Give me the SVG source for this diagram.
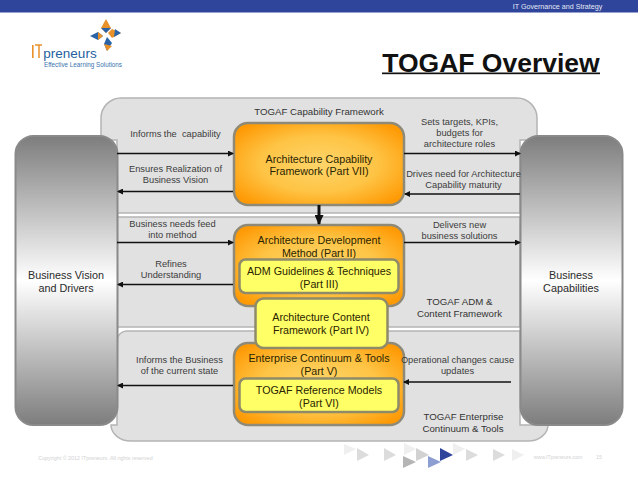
<svg xmlns="http://www.w3.org/2000/svg" width="638" height="478" viewBox="0 0 638 478">
<style>
text{font-family:"Liberation Sans",Arial,sans-serif;text-anchor:middle}
.l{font-size:9.3px;fill:#3c3c3c}
.h{font-size:9.7px;fill:#333}
.n{font-size:10.7px;fill:#2a2400}
.p{font-size:10.8px;fill:#2a2a2a}
.band{fill:#e1e1e1;stroke:#b4b4b4;stroke-width:1.5}
.orange{fill:url(#og);stroke:#8f8a78;stroke-width:2.5}
.yellow{fill:#ffff66;stroke:#8f8a68;stroke-width:2.5}
.pillar{fill:url(#pg);stroke:#8a8a8a;stroke-width:2}
.c{stroke:#111;stroke-width:1.5;fill:none;marker-end:url(#a)}
.t{fill:#dcdcdc}
</style>
<defs>
<linearGradient id="pg" x1="0" y1="0" x2="0" y2="1"><stop offset="0" stop-color="#7d7d7d"/><stop offset=".5" stop-color="#fff"/><stop offset="1" stop-color="#7d7d7d"/></linearGradient>
<radialGradient id="og" cx=".5" cy=".5" r=".62"><stop offset="0" stop-color="#fed56a"/><stop offset=".55" stop-color="#fec445"/><stop offset="1" stop-color="#ff9a05"/></radialGradient>
<marker id="a" markerWidth="6" markerHeight="6" refX="5" refY="3" orient="auto" markerUnits="userSpaceOnUse"><path d="M0 0L6 3L0 6Z" fill="#111"/></marker>
<marker id="b" markerWidth="10" markerHeight="9" refX="9" refY="4.500" orient="auto" markerUnits="userSpaceOnUse"><path d="M0 0L10 4.500L0 9Z" fill="#111"/></marker>
</defs>
<rect width="638" height="478" fill="#fff"/>
<rect id="header" width="638" height="12.500" fill="#2e459b"/>
<text x="557.500" y="9" font-size="7.150" style="fill:#e4e8f4">IT Governance and Strategy</text>
<g id="logo">
<path d="M106 19L111 28L106 33L101 28Z" fill="#e8912a"/><path d="M101 28H111L106 33Z" fill="#2a64a6"/>
<path d="M121 33L112 38L108 33L112 29Z" fill="#e8912a"/><path d="M115 29L121 33L114 37Z" fill="#2a64a6"/>
<path d="M90 36L98 32L103 36L98 40Z" fill="#2a64a6"/><path d="M98 32L103 36L98 40Z" fill="#e8912a"/>
<path d="M107 37L112 43L107 51L104 44Z" fill="#2a64a6"/><path d="M104 44L112 46L107 51Z" fill="#e8912a"/>
<rect x="32" y="45" width="1.600" height="13" fill="#e8912a"/>
<path d="M35 45H42M39 45V58" stroke="#e8912a" stroke-width="1.500" fill="none"/>
<text x="70" y="57.500" font-size="13.500" style="fill:#1f5f9e">preneurs</text>
<text x="83" y="66.500" font-size="6.300" style="fill:#3a73ad">Effective Learning Solutions</text>
</g>
<text id="title" x="491" y="71.500" font-size="26.500" font-weight="bold" fill="#111">TOGAF Overview</text>
<rect x="382" y="72.500" width="218" height="1.700" fill="#111"/>

<g id="framework-bands">
<path class="band" d="M101 140V118A20 20 0 0 1 121 98H517A20 20 0 0 1 537 118V140H520V213H117V140Z"/>
<rect class="band" x="117" y="217" width="403" height="110"/>
<path class="band" d="M117 340A10 10 0 0 1 127 331H520V425H548A20 16 0 0 1 528 441H131A20 16 0 0 1 111 425H117Z"/>
</g>

<g id="business-vision"><rect class="pillar" x="15.500" y="136" width="102" height="289" rx="18"/><text class="p" x="66" y="279">Business Vision</text><text class="p" x="66" y="291.500">and Drivers</text></g>
<g id="business-capabilities"><rect class="pillar" x="520.500" y="136" width="102" height="289" rx="18"/><text class="p" x="571" y="279">Business</text><text class="p" x="571" y="291.500">Capabilities</text></g>

<g id="capability-framework"><rect class="orange" x="234" y="123" width="170" height="82" rx="14"/><text class="n" x="319" y="162.500">Architecture Capability</text><text class="n" x="319" y="175">Framework (Part VII)</text></g>
<g id="adm"><rect class="orange" x="234" y="225" width="170" height="81" rx="14"/><text class="n" x="319" y="244">Architecture Development</text><text class="n" x="319" y="256.500">Method (Part II)</text></g>
<g id="adm-guidelines"><rect class="yellow" x="239.500" y="259.500" width="159" height="33.500" rx="6"/><text class="n" x="319" y="275">ADM Guidelines &amp; Techniques</text><text class="n" x="319" y="287.500">(Part III)</text></g>
<g id="continuum"><rect class="orange" x="234" y="343" width="170" height="82" rx="14"/><text class="n" x="319" y="362">Enterprise Continuum &amp; Tools</text><text class="n" x="319" y="374.500">(Part V)</text></g>
<g id="reference-models"><rect class="yellow" x="239.500" y="378.500" width="159" height="33.500" rx="6"/><text class="n" x="319" y="394">TOGAF Reference Models</text><text class="n" x="319" y="406.500">(Part VI)</text></g>
<g id="content-framework"><rect class="yellow" x="255.500" y="298.500" width="132" height="49.500" rx="8"/><text class="n" x="321" y="321">Architecture Content</text><text class="n" x="321" y="333.500">Framework (Part IV)</text></g>

<g id="connectors">
<path class="c" d="M117 153.500H233"/>
<path class="c" d="M233 191.500H118"/>
<path class="c" d="M404 153.500H520"/>
<path class="c" d="M520 194H405"/>
<path class="c" d="M117 242.500H233"/>
<path class="c" d="M404 242.500H520"/>
<path class="c" d="M233 284.500H118"/>
<path class="c" d="M233 385.500H118"/>
<path class="c" d="M511 382H404"/>
<path d="M319 205V224" stroke="#111" stroke-width="3" fill="none" marker-end="url(#b)"/>
</g>

<g id="labels">
<text class="h" x="319" y="114.500">TOGAF Capability Framework</text>
<text class="l" x="175.500" y="137">Informs the&#160; capability</text>
<text class="l" x="175.500" y="172">Ensures Realization of</text>
<text class="l" x="175.500" y="182.500">Business Vision</text>
<text class="l" x="459.500" y="125">Sets targets, KPIs,</text>
<text class="l" x="459.500" y="136">budgets for</text>
<text class="l" x="459.500" y="147">architecture roles</text>
<text class="l" x="463.500" y="177">Drives need for Architecture</text>
<text class="l" x="463.500" y="187.500">Capability maturity</text>
<text class="l" x="172.500" y="227">Business needs feed</text>
<text class="l" x="172.500" y="237.500">into method</text>
<text class="l" x="459.500" y="228">Delivers new</text>
<text class="l" x="459.500" y="239">business solutions</text>
<text class="l" x="171" y="267">Refines</text>
<text class="l" x="171" y="278">Understanding</text>
<text class="h" x="459.500" y="305">TOGAF ADM &amp;</text>
<text class="h" x="459.500" y="317">Content Framework</text>
<text class="l" x="179.500" y="363">Informs the Business</text>
<text class="l" x="179.500" y="373.500">of the current state</text>
<text class="l" x="457.500" y="363">Operational changes cause</text>
<text class="l" x="457.500" y="373.500">updates</text>
<text class="h" x="463.500" y="419.500">TOGAF Enterprise</text>
<text class="h" x="463" y="431.500">Continuum &amp; Tools</text>
</g>

<g id="footer">
<text x="95.500" y="460" font-size="5.350" style="fill:#d2d2d2">Copyright © 2012 ITpreneurs. All rights reserved</text>
<text x="558" y="458.500" font-size="5.200" style="fill:#d2d2d2">www.ITpreneurs.com</text>
<text x="599" y="458.500" font-size="5.200" style="fill:#d2d2d2">15</text>
<path fill="#efefef" d="M344 444L356 449L344 455Z"/>
<path class="t" d="M357 448L369 455L357 461Z"/>
<path class="t" d="M384 448L396 455L384 461Z"/>
<path fill="#efefef" d="M404 443L416 449L404 455Z"/>
<path fill="#b5b5b5" d="M403 456L416 462L403 468Z"/>
<path fill="#d2d2d2" d="M416 448L429 455L416 461Z"/>
<path fill="#8d9fd2" d="M428 456L441 462L428 468Z"/>
<path fill="#2e459b" d="M440 448L453 455L440 461Z"/>
<path fill="#efefef" d="M453 443L465 449L453 455Z"/>
<path class="t" d="M466 449L478 455L466 461Z"/>
<path class="t" d="M493 449L505 455L493 461Z"/>
<path fill="#efefef" d="M512 449L524 455L512 461Z"/>
</g>
</svg>
